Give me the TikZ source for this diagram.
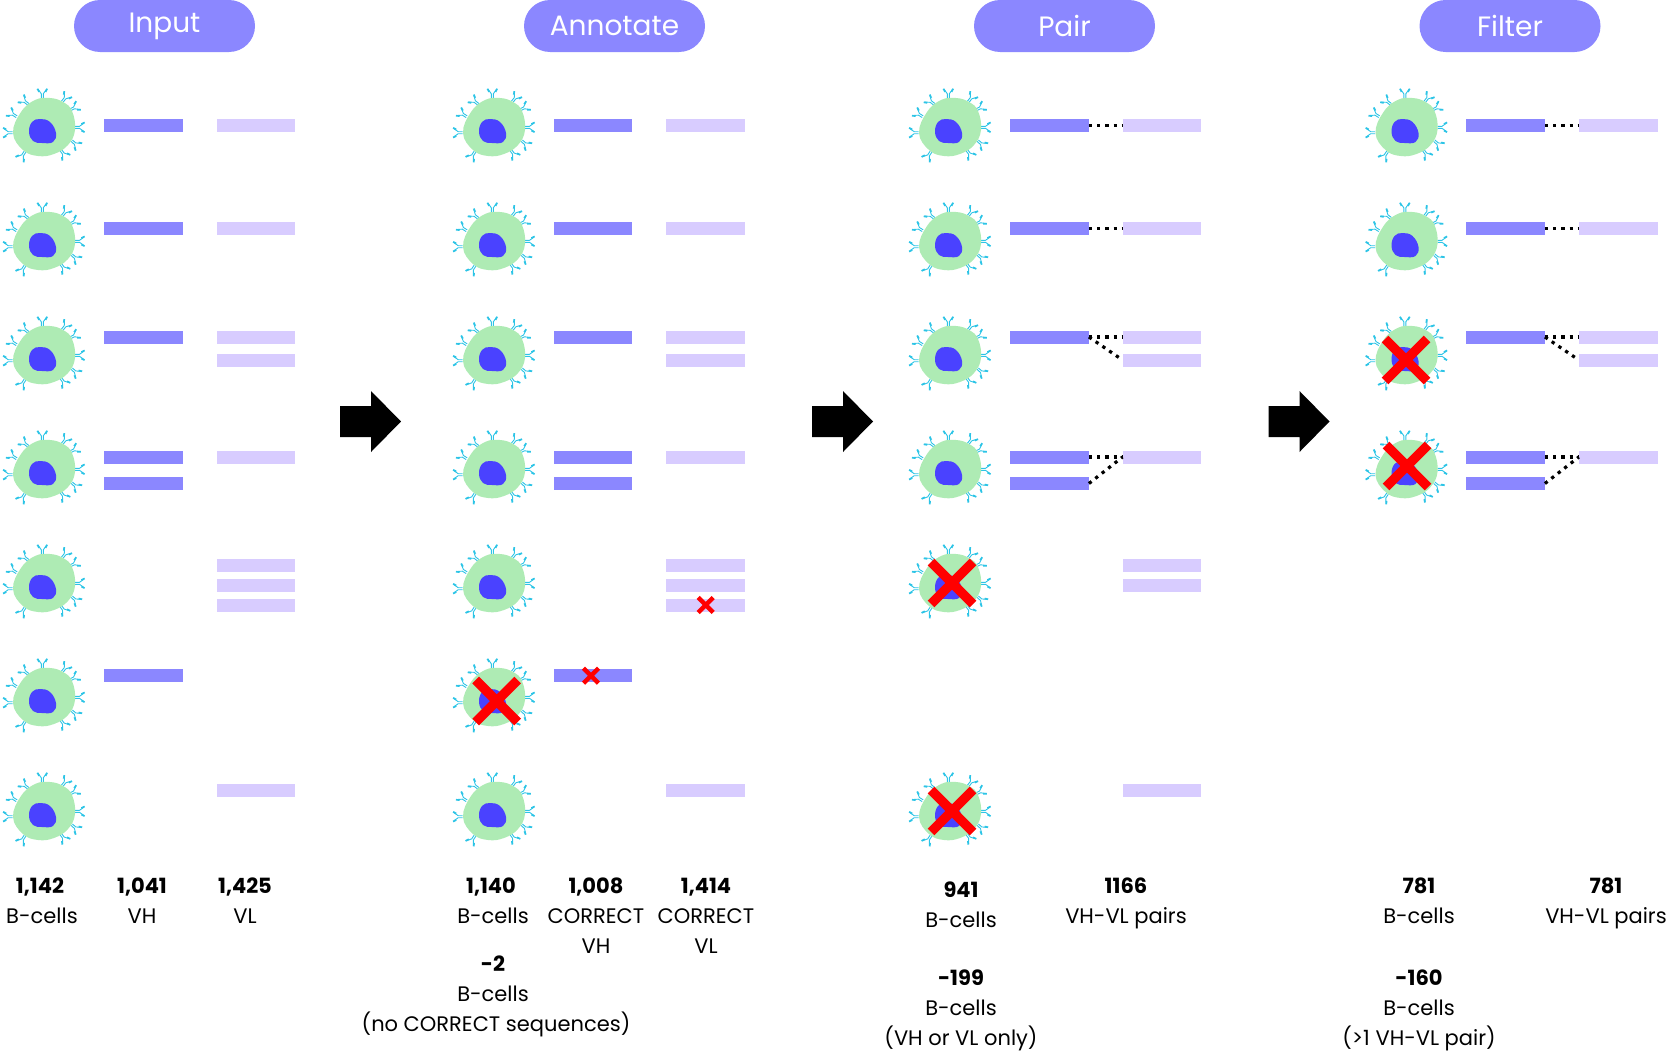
\documentclass[tikz,border=0pt]{standalone}
\usepackage{fontspec}
\setmainfont{Poppins}
\definecolor{vhc}{HTML}{8B87FF}
\definecolor{vlc}{HTML}{D8CCFF}
\definecolor{cellc}{HTML}{AEEBB4}
\definecolor{nucc}{HTML}{4A42FF}
\definecolor{abc}{HTML}{2CC4E6}
\tikzset{
  vhbar/.style={rectangle,fill=vhc,inner sep=0,minimum width=78.7pt,minimum height=13pt},
  vlbar/.style={rectangle,fill=vlc,inner sep=0,minimum width=78.7pt,minimum height=13pt},
  pill/.style={rectangle,rounded corners=26pt,fill=vhc,inner sep=0,minimum width=181pt,minimum height=52pt,text=white,font=\fontsize{28}{32}\selectfont},
  lab/.style={inner sep=0,font=\fontsize{21}{25}\selectfont,anchor=base},
  blab/.style={inner sep=0,font=\fontsize{21}{25}\selectfont\bfseries,anchor=base},
  pairline/.style={black,line width=3.2pt,dash pattern=on 3.3pt off 4.9pt},
  redx/.style={red,line cap=butt},
}
\newcommand\abody[3]{\begin{scope}[shift={(#1,#2)},rotate=#3]
  \draw[abc,line width=.9pt] (0,1) -- (4.5,1) -- (9,4.2) (0,-1) -- (4.5,-1) -- (9,-4.2);
  \draw[abc,line width=1.7pt] (6.4,3.2) -- (9.6,4.9) (6.4,-3.2) -- (9.6,-4.9);
\end{scope}}
\newcommand\bcell[2]{\begin{scope}[shift={(#1,#2)}]
  \abody{-1.7}{-28.7}{90}\abody{-15.7}{-22.7}{142}\abody{-27.3}{-10.3}{148}\abody{-31.3}{5.7}{180}
  \abody{-19}{24.7}{236}\abody{16.7}{23}{306}\abody{27.7}{13.7}{319}\abody{31}{0.3}{0}
  \abody{26}{-17}{28}\abody{18.3}{-25.3}{52}
  \fill[cellc] plot[smooth cycle,tension=.7] coordinates {(6,-29) (19,-25) (28,-16) (31,3) (24,18) (10,27) (-6,29) (-21,23) (-31,6) (-23,-15) (-9,-27)};
  \fill[nucc] plot[smooth cycle,tension=.7] coordinates {(-4,-8) (6,-5) (12,6) (9,15) (-2,16) (-11,14) (-15,5) (-12,-5)};
\end{scope}}
\newcommand\bigx[4]{\draw[redx,line width=#4pt] (#1-#3,#2-#3) -- (#1+#3,#2+#3) (#1-#3,#2+#3) -- (#1+#3,#2-#3);}
\newcommand\VH[3]{\node[vhbar] (#1) at (#2+39.35,#3) {};}
\newcommand\VL[3]{\node[vlbar] (#1) at (#2+39.35,#3) {};}
\newcommand\barrow[1]{\fill[black] (#1,406) -- (#1+31,406) -- (#1+31,391) -- (#1+61,421.5) -- (#1+31,452) -- (#1+31,437) -- (#1,437) -- cycle;}
\begin{document}
\begin{tikzpicture}[x=1pt,y=-1pt]
\useasboundingbox (0,0) rectangle (1677,1060);
% pills
\node[pill] (p1) at (164.5,26) {Input};
\node[pill] (p2) at (614.5,26) {Annotate};
\node[pill] (p3) at (1064.5,26) {Pair};
\node[pill] (p4) at (1510,26) {Filter};
% cells
\foreach \cx in {44,494}{\foreach \cy in {127,241,355,469,583,697,811}{\bcell{\cx}{\cy}}}
\foreach \cy in {127,241,355,469,583,811}{\bcell{950}{\cy}}
\foreach \cy in {127,241,355,469}{\bcell{1406.5}{\cy}}
% Input bars
\VH{ia1}{104}{125.5}\VL{ib1}{216.5}{125.5}
\VH{ia2}{104}{228.5}\VL{ib2}{216.5}{228.5}
\VH{ia3}{104}{337}\VL{ib3}{216.5}{337}\VL{ib3x}{216.5}{360}
\VH{ia4}{104}{457}\VH{ia4x}{104}{483.5}\VL{ib4}{216.5}{457}
\VL{ib5}{216.5}{565.5}\VL{ib5x}{216.5}{585.5}\VL{ib5y}{216.5}{605.5}
\VH{ia6}{104}{675.5}
\VL{ib7}{216.5}{790.5}
% Annotate bars
\VH{aa1}{553.5}{125.5}\VL{ab1}{666}{125.5}
\VH{aa2}{553.5}{228.5}\VL{ab2}{666}{228.5}
\VH{aa3}{553.5}{337}\VL{ab3}{666}{337}\VL{ab3x}{666}{360}
\VH{aa4}{553.5}{457}\VH{aa4x}{553.5}{483.5}\VL{ab4}{666}{457}
\VL{ab5}{666}{565.5}\VL{ab5x}{666}{585.5}\VL{ab5y}{666}{605.5}
\VH{aa6}{553.5}{675.5}
\VL{ab7}{666}{790.5}
% Pair bars
\VH{pa1}{1010}{125.5}\VL{pb1}{1122.7}{125.5}
\VH{pa2}{1010}{228.5}\VL{pb2}{1122.7}{228.5}
\VH{pa3}{1010}{337}\VL{pb3}{1122.7}{337}\VL{pb3x}{1122.7}{360}
\VH{pa4}{1010}{457}\VH{pa4x}{1010}{483.5}\VL{pb4}{1122.7}{457}
\VL{pb5}{1122.7}{565.5}\VL{pb5x}{1122.7}{585.5}
\VL{pb7}{1122.7}{790.5}
% Filter bars
\VH{fa1}{1466}{125.5}\VL{fb1}{1579}{125.5}
\VH{fa2}{1466}{228.5}\VL{fb2}{1579}{228.5}
\VH{fa3}{1466}{337}\VL{fb3}{1579}{337}\VL{fb3x}{1579}{360}
\VH{fa4}{1466}{457}\VH{fa4x}{1466}{483.5}\VL{fb4}{1579}{457}
% pair connectors
\foreach \k in {p,f}{
  \draw[pairline] (\k a1.east) -- (\k b1.west);
  \draw[pairline] (\k a2.east) -- (\k b2.west);
  \draw[pairline] (\k a3.east) -- (\k b3.west);
  \draw[pairline] (\k a3.east) -- (\k b3x.west);
  \draw[pairline] (\k a4.east) -- (\k b4.west);
  \draw[pairline] (\k a4x.east) -- (\k b4.west);
}
% crosses
\bigx{705.7}{605}{7.5}{4.5}
\bigx{591}{675.7}{7.5}{4.5}
\bigx{496.7}{701}{21}{9.5}
\bigx{952}{583}{21}{9.5}
\bigx{952}{811}{21}{9.5}
\bigx{1406}{360}{21}{9.5}
\bigx{1407}{466}{21}{9.5}
% arrows
\barrow{340}\barrow{812}\barrow{1268.5}
% labels
\node[blab] (t1) at (40,893) {1,142};
\node[lab] (t2) at (42,923) {B-cells};
\node[blab] (t3) at (142,893) {1,041};
\node[lab] (t4) at (142,923) {VH};
\node[blab] (t5) at (245,893) {1,425};
\node[lab] (t6) at (245,923) {VL};
\node[blab] (t7) at (491,893) {1,140};
\node[lab] (t8) at (493,923) {B-cells};
\node[blab] (t9) at (596,893) {1,008};
\node[lab] (t10) at (596,923) {CORRECT};
\node[lab] (t11) at (596,953) {VH};
\node[blab] (t12) at (706,893) {1,414};
\node[lab] (t13) at (706,923) {CORRECT};
\node[lab] (t14) at (706,953) {VL};
\node[blab] (t15) at (493,971) {-2};
\node[lab] (t16) at (493,1001) {B-cells};
\node[lab] (t17) at (496,1031) {(no CORRECT sequences)};
\node[blab] (t18) at (961,897) {941};
\node[lab] (t19) at (961,927) {B-cells};
\node[blab] (t20) at (1126,893) {1166};
\node[lab] (t21) at (1126,923) {VH-VL pairs};
\node[blab] (t22) at (961,985) {-199};
\node[lab] (t23) at (961,1015) {B-cells};
\node[lab] (t24) at (961,1045) {(VH or VL only)};
\node[blab] (t25) at (1419,893) {781};
\node[lab] (t26) at (1419,923) {B-cells};
\node[blab] (t27) at (1606,893) {781};
\node[lab] (t28) at (1606,923) {VH-VL pairs};
\node[blab] (t29) at (1419,985) {-160};
\node[lab] (t30) at (1419,1015) {B-cells};
\node[lab] (t31) at (1419,1045) {(>1 VH-VL pair)};
\end{tikzpicture}
\end{document}
